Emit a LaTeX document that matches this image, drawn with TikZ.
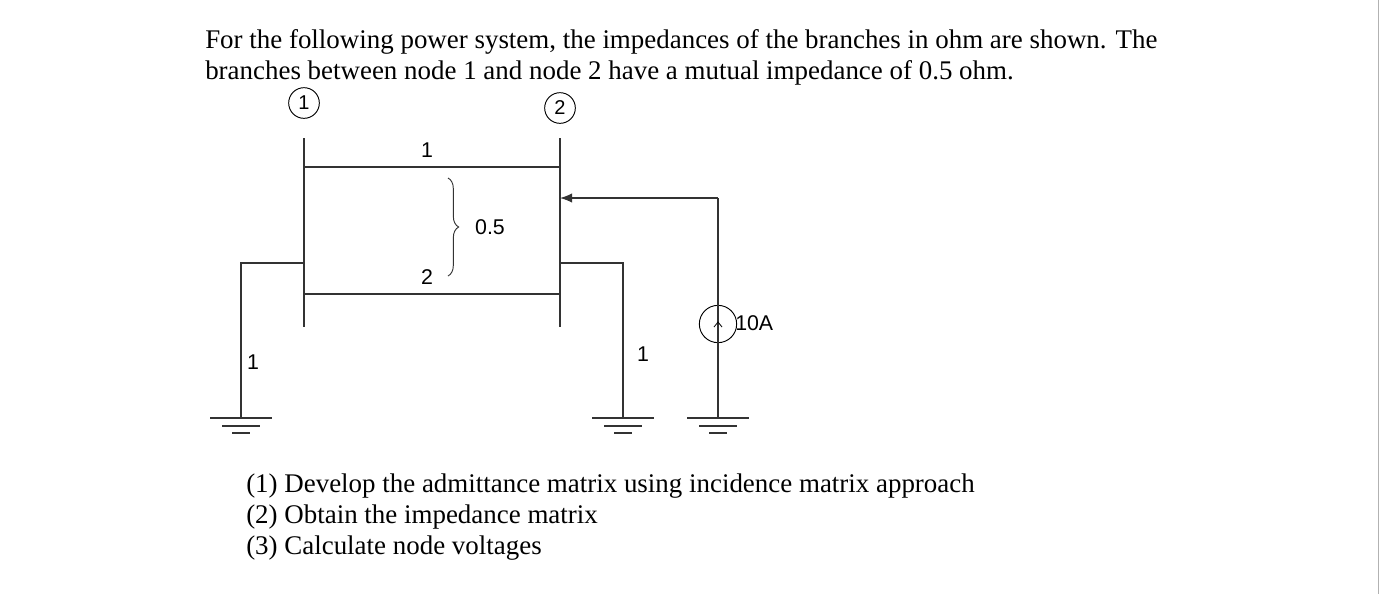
\documentclass[tikz,border=0pt]{standalone}
\usepackage{fontspec}
\setmainfont{Liberation Serif}
\newfontfamily\arialf{Liberation Sans}
\usetikzlibrary{arrows.meta,decorations.pathreplacing,calc}
\begin{document}
\begin{tikzpicture}[x=0.75pt,y=-0.75pt,
  wire/.style={line width=0.9pt,draw=black!80},
  lbl/.style={font=\arialf\fontsize{16}{18}\selectfont,inner sep=0pt},
  txt/.style={font=\fontsize{20.2}{24}\selectfont,anchor=west,inner sep=0pt},
  busnum/.style={circle,draw,line width=0.7pt,minimum size=23,inner sep=0pt,font=\arialf\fontsize{15}{17}\selectfont}]
\useasboundingbox (0,0) rectangle (1381,594);
\draw[black!30] (1378,0)--(1378,594);
\node[txt] (t1) at (205,42) {For the following power system, the impedances of the branches in ohm are shown. The};
\node[txt] (t2) at (205,73) {branches between node 1 and node 2 have a mutual impedance of 0.5 ohm.};
\node[busnum] (n1) at (304,103) {1};
\node[busnum] (n2) at (560,108) {2};
% buses
\coordinate (b1t) at (304,138); \coordinate (b1b) at (304,327);
\coordinate (b2t) at (560,138); \coordinate (b2b) at (560,327);
\draw[wire] (b1t)--(b1b); \draw[wire] (b2t)--(b2b);
% lines
\coordinate (l1a) at (304,167); \coordinate (l1b) at (560,167);
\coordinate (l2a) at (304,294); \coordinate (l2b) at (560,294);
\draw[wire] (l1a)--(l1b); \draw[wire] (l2a)--(l2b);
\node[lbl] (z1) at (427,150) {1};
\node[lbl] (z2) at (427,277) {2};
\draw[line width=0.7pt,black!80,decorate,decoration={brace,amplitude=8pt}] (448,178)--(448,276);
\node[lbl] (zm) at (490,227) {0.5};
% left shunt
\coordinate (s1a) at (304,263); \coordinate (s1b) at (241,263); \coordinate (g1) at (241,418);
\draw[wire] (s1a)--(s1b)--(g1);
\node[lbl] (y1) at (253,362) {1};
% right shunt
\coordinate (s2a) at (560,263); \coordinate (s2b) at (623,263); \coordinate (g2) at (623,418);
\draw[wire] (s2a)--(s2b)--(g2);
\node[lbl] (y2) at (643,354) {1};
% source
\coordinate (ia) at (560,198); \coordinate (ib) at (718,198); \coordinate (g3) at (718,418);
\node[circle,draw,line width=0.7pt,minimum size=28,inner sep=0pt] (src) at (718,324) {};
\draw[wire] (g3)--(ib);
\draw[wire,-{Latex[length=9pt,width=7pt]}] (ib)--(ia);
\draw[line width=0.6pt] (714,327)--(718,322)--(722,327);
\node[lbl,anchor=west] (ilab) at (735,323) {10A};
% grounds
\foreach \g in {g1,g2,g3}{
  \draw[wire] ($(\g)+(-31,0)$)--($(\g)+(31,0)$);
  \draw[wire] ($(\g)+(-19,8)$)--($(\g)+(19,8)$);
  \draw[wire] ($(\g)+(-9,15)$)--($(\g)+(9,15)$);
}
\node[txt] (q1) at (246,486) {(1) Develop the admittance matrix using incidence matrix approach};
\node[txt] (q2) at (246,517) {(2) Obtain the impedance matrix};
\node[txt] (q3) at (246,548) {(3) Calculate node voltages};
\end{tikzpicture}
\end{document}
